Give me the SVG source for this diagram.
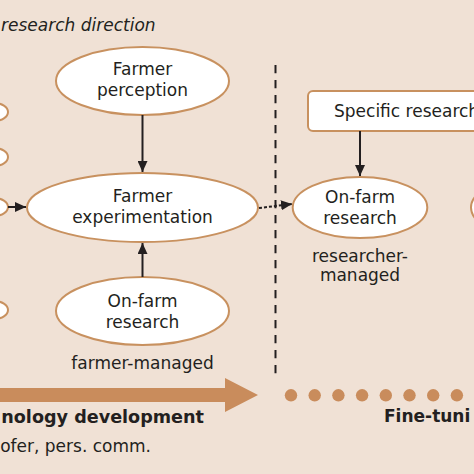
<svg xmlns="http://www.w3.org/2000/svg" width="474" height="474" viewBox="0 0 474 474">
<style>
.bg{fill:#f0e1d5}
.node{fill:#ffffff;stroke:#c8915f;stroke-width:2}
.t{font-family:"DejaVu Sans",Verdana,sans-serif;font-size:17px;fill:#231f20}
.c{text-anchor:middle}
.b{font-weight:bold;font-size:17.6px}
.i{font-style:italic}
.conn{stroke:#231f20;stroke-width:2;fill:none}
.dot{fill:#c98c5c}
</style>
<defs>
<marker id="ah" markerUnits="userSpaceOnUse" markerWidth="11" markerHeight="10" refX="11" refY="5" orient="auto">
<path d="M0,0 L11,5 L0,10 z" fill="#231f20"/>
</marker>
</defs>
<rect class="bg" x="0" y="0" width="474" height="474"/>
<text class="t i" x="1" y="31">research direction</text>
<g id="edge-left-nodes">
<ellipse class="node" cx="-6" cy="112" rx="14" ry="9"/>
<ellipse class="node" cx="-6" cy="157" rx="14" ry="9"/>
<ellipse class="node" cx="-6" cy="207" rx="14" ry="9"/>
<ellipse class="node" cx="-6" cy="310" rx="14" ry="9"/>
</g>
<g id="farmer-perception">
<ellipse class="node" cx="142.5" cy="81" rx="86.5" ry="34"/>
<text class="t c" x="142.5" y="75">Farmer</text>
<text class="t c" x="142.5" y="96">perception</text>
</g>
<g id="farmer-experimentation">
<ellipse class="node" cx="142.5" cy="207.5" rx="115.5" ry="34.5"/>
<text class="t c" x="142.5" y="202">Farmer</text>
<text class="t c" x="142.5" y="223">experimentation</text>
</g>
<g id="onfarm-farmer">
<ellipse class="node" cx="142.5" cy="311" rx="86.5" ry="34"/>
<text class="t c" x="142.5" y="307">On-farm</text>
<text class="t c" x="142.5" y="328">research</text>
<text class="t c" x="142.5" y="369">farmer-managed</text>
</g>
<g id="specific-research">
<rect class="node" x="308" y="91" width="200" height="40" rx="5"/>
<text class="t" x="334" y="117">Specific research</text>
</g>
<g id="onfarm-researcher">
<ellipse class="node" cx="360" cy="207.5" rx="67.3" ry="30.5"/>
<text class="t c" x="360" y="203">On-farm</text>
<text class="t c" x="360" y="224">research</text>
<text class="t c" x="360" y="262">researcher-</text>
<text class="t c" x="360" y="281">managed</text>
</g>
<g id="edge-right-node">
<ellipse class="node" cx="538" cy="207.5" rx="67" ry="30.5"/>
</g>
<g id="connectors">
<line class="conn" x1="142.5" y1="115" x2="142.5" y2="172" marker-end="url(#ah)"/>
<line class="conn" x1="142.5" y1="277" x2="142.5" y2="243" marker-end="url(#ah)"/>
<line class="conn" x1="360" y1="131" x2="360" y2="176" marker-end="url(#ah)"/>
<line class="conn" x1="8" y1="207" x2="26" y2="207" marker-end="url(#ah)"/>
<line class="conn" x1="259" y1="208" x2="292" y2="204" stroke-dasharray="3 2" marker-end="url(#ah)"/>
</g>
<line x1="275.5" y1="65" x2="275.5" y2="374" stroke="#231f20" stroke-width="2" stroke-dasharray="8.3 6.7"/>
<polygon fill="#c98c5c" points="0,388 225,388 225,378 258,395 225,412 225,402 0,402"/>
<g id="dots">
<circle class="dot" cx="291" cy="395.3" r="6.2"/>
<circle class="dot" cx="314.7" cy="395.3" r="6.2"/>
<circle class="dot" cx="338.4" cy="395.3" r="6.2"/>
<circle class="dot" cx="362.1" cy="395.3" r="6.2"/>
<circle class="dot" cx="385.8" cy="395.3" r="6.2"/>
<circle class="dot" cx="409.5" cy="395.3" r="6.2"/>
<circle class="dot" cx="433.2" cy="395.3" r="6.2"/>
<circle class="dot" cx="456.9" cy="395.3" r="6.2"/>
</g>
<text class="t b" x="204" y="423" text-anchor="end">nology development</text>
<text class="t b" x="384" y="422" style="font-size:17px">Fine-tuni</text>
<text class="t" x="151" y="452" text-anchor="end">ofer, pers. comm.</text>
</svg>
